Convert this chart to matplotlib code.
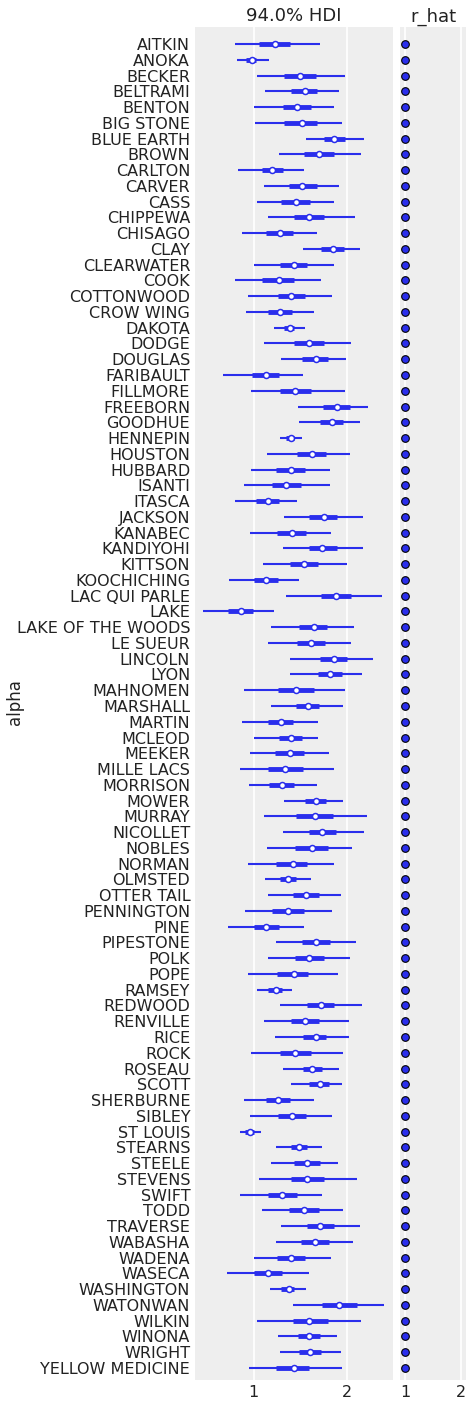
import matplotlib
matplotlib.use("Agg")
import matplotlib.pyplot as plt

counties = ["AITKIN","ANOKA","BECKER","BELTRAMI","BENTON","BIG STONE","BLUE EARTH","BROWN","CARLTON","CARVER","CASS","CHIPPEWA","CHISAGO","CLAY","CLEARWATER","COOK","COTTONWOOD","CROW WING","DAKOTA","DODGE","DOUGLAS","FARIBAULT","FILLMORE","FREEBORN","GOODHUE","HENNEPIN","HOUSTON","HUBBARD","ISANTI","ITASCA","JACKSON","KANABEC","KANDIYOHI","KITTSON","KOOCHICHING","LAC QUI PARLE","LAKE","LAKE OF THE WOODS","LE SUEUR","LINCOLN","LYON","MAHNOMEN","MARSHALL","MARTIN","MCLEOD","MEEKER","MILLE LACS","MORRISON","MOWER","MURRAY","NICOLLET","NOBLES","NORMAN","OLMSTED","OTTER TAIL","PENNINGTON","PINE","PIPESTONE","POLK","POPE","RAMSEY","REDWOOD","RENVILLE","RICE","ROCK","ROSEAU","SCOTT","SHERBURNE","SIBLEY","ST LOUIS","STEARNS","STEELE","STEVENS","SWIFT","TODD","TRAVERSE","WABASHA","WADENA","WASECA","WASHINGTON","WATONWAN","WILKIN","WINONA","WRIGHT","YELLOW MEDICINE"]

hdi_low = [.80,.82,1.04,1.12,1.00,1.02,1.56,1.27,.83,1.11,1.04,1.15,.88,1.53,1.01,.80,.94,.92,1.22,1.11,1.29,.67,.97,1.48,1.49,1.28,1.14,.97,.90,.80,1.33,.96,1.32,1.10,.74,1.35,.46,1.19,1.16,1.39,1.39,.90,1.19,.88,1.01,.96,.85,.95,1.33,1.11,1.32,1.14,.94,1.12,1.16,.91,.73,1.24,1.16,.94,1.04,1.28,1.11,1.23,.97,1.32,1.40,.90,.96,.85,1.24,1.19,1.06,.85,1.09,1.30,1.24,1.00,.71,1.18,1.42,1.04,1.26,1.28,.95]
q25 = [1.06,.92,1.33,1.40,1.32,1.33,1.76,1.54,1.09,1.38,1.30,1.43,1.13,1.73,1.28,1.09,1.26,1.15,1.33,1.43,1.52,.98,1.28,1.75,1.72,1.35,1.47,1.24,1.20,1.03,1.60,1.25,1.60,1.39,1.00,1.73,.73,1.49,1.47,1.71,1.69,1.26,1.46,1.15,1.27,1.23,1.15,1.17,1.55,1.46,1.60,1.45,1.24,1.28,1.42,1.20,1.00,1.52,1.45,1.25,1.16,1.58,1.40,1.53,1.28,1.53,1.60,1.13,1.26,.91,1.40,1.44,1.40,1.15,1.38,1.57,1.51,1.25,1.01,1.30,1.74,1.42,1.48,1.49,1.24]
median = [1.23,.98,1.50,1.55,1.47,1.52,1.87,1.70,1.20,1.52,1.46,1.60,1.28,1.85,1.43,1.27,1.40,1.28,1.39,1.60,1.67,1.13,1.45,1.90,1.84,1.40,1.63,1.40,1.35,1.15,1.76,1.41,1.74,1.54,1.13,1.89,.87,1.65,1.62,1.86,1.82,1.46,1.59,1.29,1.40,1.39,1.34,1.31,1.67,1.66,1.74,1.63,1.42,1.37,1.56,1.37,1.13,1.67,1.60,1.43,1.24,1.73,1.55,1.67,1.45,1.63,1.71,1.26,1.41,.96,1.49,1.58,1.58,1.31,1.54,1.72,1.66,1.40,1.16,1.38,1.92,1.60,1.60,1.61,1.44]
q75 = [1.39,1.03,1.67,1.68,1.62,1.68,1.98,1.86,1.32,1.68,1.61,1.76,1.42,1.97,1.58,1.44,1.55,1.41,1.44,1.76,1.80,1.27,1.62,2.04,1.96,1.44,1.78,1.55,1.51,1.27,1.90,1.56,1.90,1.69,1.26,2.05,.99,1.79,1.77,2.00,1.95,1.65,1.70,1.42,1.52,1.54,1.53,1.44,1.78,1.85,1.89,1.80,1.58,1.46,1.70,1.54,1.27,1.82,1.76,1.59,1.31,1.87,1.70,1.78,1.62,1.74,1.81,1.39,1.56,1.00,1.58,1.71,1.76,1.47,1.70,1.87,1.81,1.55,1.31,1.44,2.11,1.80,1.71,1.73,1.60]
hdi_high = [1.71,1.17,1.98,1.92,1.86,1.95,2.19,2.16,1.54,1.92,1.87,2.09,1.68,2.15,1.87,1.73,1.84,1.65,1.55,2.05,1.99,1.53,1.98,2.23,2.15,1.52,2.04,1.82,1.82,1.47,2.18,1.83,2.18,2.01,1.49,2.38,1.22,2.08,2.05,2.29,2.17,1.98,1.96,1.69,1.69,1.81,1.87,1.68,1.96,2.22,2.19,2.06,1.87,1.62,1.94,1.84,1.54,2.10,2.04,1.91,1.41,2.17,2.03,2.03,1.96,1.92,1.95,1.65,1.84,1.08,1.74,1.91,2.11,1.74,1.96,2.15,2.07,1.83,1.60,1.56,2.40,2.16,1.90,1.94,1.95]
r_hat = [1.0] * len(counties)

color = "#2a2eec"
fig = plt.figure(figsize=(4.74, 14.04), dpi=100)
H = 1404.0
ax = fig.add_axes([195/474, 1-1380/H, (393-195)/474, (1380-27)/H])
ax2 = fig.add_axes([400/474, 1-1380/H, (466-400)/474, (1380-27)/H], sharey=ax)
n = len(counties)
ys = list(range(n))
for a in (ax, ax2):
    a.set_facecolor("#eeeeee")
    for s in a.spines.values():
        s.set_visible(False)
    a.grid(True, axis="x", color="white", linewidth=1.2)
    a.set_axisbelow(True)
    a.tick_params(length=0, labelsize=11.5, colors="#222222")
ax.hlines(ys, hdi_low, hdi_high, color=color, linewidth=1.5)
ax.hlines(ys, q25, q75, color=color, linewidth=3.5)
ax.plot(median, ys, "o", markerfacecolor="white", markeredgecolor=color, markersize=4.3, markeredgewidth=1.1, linestyle="none")
ax.set_xlim(0.37, 2.5)
ax.set_xticks([1, 2])
ax.set_ylim(n - 1 + 0.76, -1.08)
ax.set_yticks(ys)
ax.set_yticklabels(counties)
ax.set_title("94.0% HDI", fontsize=13, color="#222222", pad=4)
fig.text(15/474, 0.5, "alpha", rotation=90, fontsize=12, ha="center", va="center", color="#222222")

ax2.plot(r_hat, ys, "o", markerfacecolor=color, markeredgecolor="black", markersize=5.5, markeredgewidth=0.8, linestyle="none")
ax2.set_xlim(0.91, 2.09)
ax2.set_xticks([1, 2])
ax2.tick_params(axis="y", labelleft=False)
ax2.set_title("r_hat", fontsize=13, color="#222222", pad=4)

fig.savefig("out.png", dpi=100)
